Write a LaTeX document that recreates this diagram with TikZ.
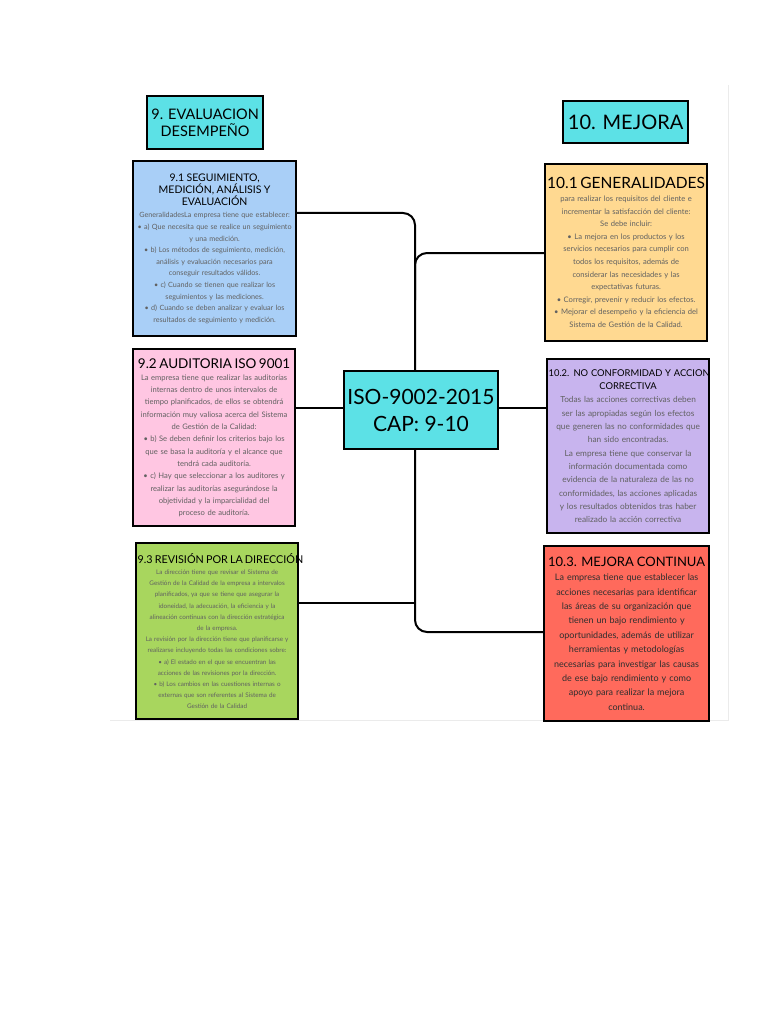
\documentclass[tikz,border=0pt]{standalone}
\usepackage{fontspec}
\setmainfont{Lato}
\definecolor{cy}{HTML}{5CE1E6}
\definecolor{lb}{HTML}{A9CFF7}
\definecolor{pk}{HTML}{FFC6E2}
\definecolor{gr}{HTML}{A8D65E}
\definecolor{og}{HTML}{FFD991}
\definecolor{pu}{HTML}{C8B4EE}
\definecolor{rd}{HTML}{FF6A5C}
\begin{document}
\begin{tikzpicture}[x=1pt,y=-1pt,
  box/.style={draw=black,line width=2.2pt,anchor=north west,inner sep=1pt,align=center,text=black!62},
  conn/.style={draw=black,line width=2pt,rounded corners=12pt}]
\useasboundingbox (0,0) rectangle (768,1024);
\fill[white] (0,0) rectangle (768,1024);
\draw[black!8,line width=1pt] (110,720) -- (728,720) -- (728,85);
% connectors
\draw[conn] (295,213) -- (415,213) -- (415,632) -- (543,632);
\draw[conn] (415,300) |- (544,253);
\draw[conn] (294,408) -- (546,408);
\draw[conn] (297,603) -- (415,603);
% titles
\node[draw,line width=2.2pt,fill=cy,minimum width=116pt,minimum height=53pt,anchor=north west,align=center,font=\fontsize{14.5}{17}\selectfont] (t9) at (146,95) {9. EVALUACION\\DESEMPEÑO};
\node[draw,line width=2.2pt,fill=cy,minimum width=125pt,minimum height=42pt,anchor=north west,font=\fontsize{20}{22}\selectfont] (t10) at (562,100) {10. MEJORA};
% center
\node[draw,line width=2.2pt,fill=cy,minimum width=145pt,minimum height=78pt,anchor=north west,align=center,font=\fontsize{21}{27}\selectfont] (c) at (343,370) {ISO-9002-2015\\CAP: 9-10};
% 9.1
\node[box,fill=lb,minimum width=163pt,minimum height=175pt,text width=160pt,font=\fontsize{7.2}{11.6}\selectfont] (a) at (132,160) {{\fontsize{10.5}{12.5}\selectfont\color{black}9.1 SEGUIMIENTO,\\MEDICIÓN, ANÁLISIS Y\\EVALUACIÓN}\\[1pt]
GeneralidadesLa empresa tiene que establecer:\\
• a) Que necesita que se realice un seguimiento\\ y una medición.\\
• b) Los métodos de seguimiento, medición,\\ análisis y evaluación necesarios para\\ conseguir resultados válidos.\\
• c) Cuando se tienen que realizar los\\ seguimientos y las mediciones.\\
• d) Cuando se deben analizar y evaluar los\\ resultados de seguimiento y medición.};
% 9.2
\node[box,fill=pk,minimum width=162pt,minimum height=177pt,text width=159pt,font=\fontsize{7.6}{12.3}\selectfont] (b) at (132,348) {{\fontsize{13.5}{14}\selectfont\color{black}9.2 AUDITORIA ISO 9001}\\
La empresa tiene que realizar las auditorías\\ internas dentro de unos intervalos de\\ tiempo planificados, de ellos se obtendrá\\ información muy valiosa acerca del Sistema\\ de Gestión de la Calidad:\\
• b) Se deben definir los criterios bajo los\\ que se basa la auditoría y el alcance que\\ tendrá cada auditoría.\\
• c) Hay que seleccionar a los auditores y\\ realizar las auditorías asegurándose la\\ objetividad y la imparcialidad del\\ proceso de auditoría.};
% 9.3
\node[box,fill=gr,minimum width=162pt,minimum height=176pt,text width=159pt,font=\fontsize{6.3}{11.2}\selectfont] (d) at (135,542) {{\fontsize{10.8}{13}\selectfont\color{black}\mbox{9.3 REVISIÓN POR LA DIRECCIÓN}}\\
La dirección tiene que revisar el Sistema de\\ Gestión de la Calidad de la empresa a intervalos\\ planificados, ya que se tiene que asegurar la\\ idoneidad, la adecuación, la eficiencia y la\\ alineación continuas con la dirección estratégica\\ de la empresa.\\
La revisión por la dirección tiene que planificarse y\\ realizarse incluyendo todas las condiciones sobre:\\
• a) El estado en el que se encuentran las\\ acciones de las revisiones por la dirección.\\
• b) Los cambios en las cuestiones internas o\\ externas que son referentes al Sistema de\\ Gestión de la Calidad};
% 10.1
\node[box,fill=og,minimum width=162pt,minimum height=177pt,text width=159pt,font=\fontsize{7.6}{12.6}\selectfont] (e) at (544,163) {{\fontsize{15.5}{19}\selectfont\color{black}\mbox{10.1 GENERALIDADES}}\\
para realizar los requisitos del cliente e\\ incrementar la satisfacción del cliente:\\ Se debe incluir:\\
• La mejora en los productos y los\\ servicios necesarios para cumplir con\\ todos los requisitos, además de\\ considerar las necesidades y las\\ expectativas futuras.\\
• Corregir, prevenir y reducir los efectos.\\
• Mejorar el desempeño y la eficiencia del\\ Sistema de Gestión de la Calidad.};
% 10.2
\node[box,fill=pu,minimum width=162pt,minimum height=174pt,text width=159pt,font=\fontsize{8.3}{13.3}\selectfont] (f) at (546,358) {{\fontsize{9.4}{13}\selectfont\color{black}\mbox{10.2. NO CONFORMIDAD Y ACCION}\\ CORRECTIVA}\\
Todas las acciones correctivas deben\\ ser las apropiadas según los efectos\\ que generen las no conformidades que\\ han sido encontradas.\\
La empresa tiene que conservar la\\ información documentada como\\ evidencia de la naturaleza de las no\\ conformidades, las acciones aplicadas\\ y los resultados obtenidos tras haber\\ realizado la acción correctiva};
% 10.3
\node[box,fill=rd,minimum width=165pt,minimum height=175pt,text width=162pt,font=\fontsize{9}{14.4}\selectfont,text=black!82] (g) at (543,545) {{\fontsize{13}{15}\selectfont\color{black}10.3. MEJORA CONTINUA}\\
La empresa tiene que establecer las\\ acciones necesarias para identificar\\ las áreas de su organización que\\ tienen un bajo rendimiento y\\ oportunidades, además de utilizar\\ herramientas y metodologías\\ necesarias para investigar las causas\\ de ese bajo rendimiento y como\\ apoyo para realizar la mejora\\ continua.};
\end{tikzpicture}
\end{document}
